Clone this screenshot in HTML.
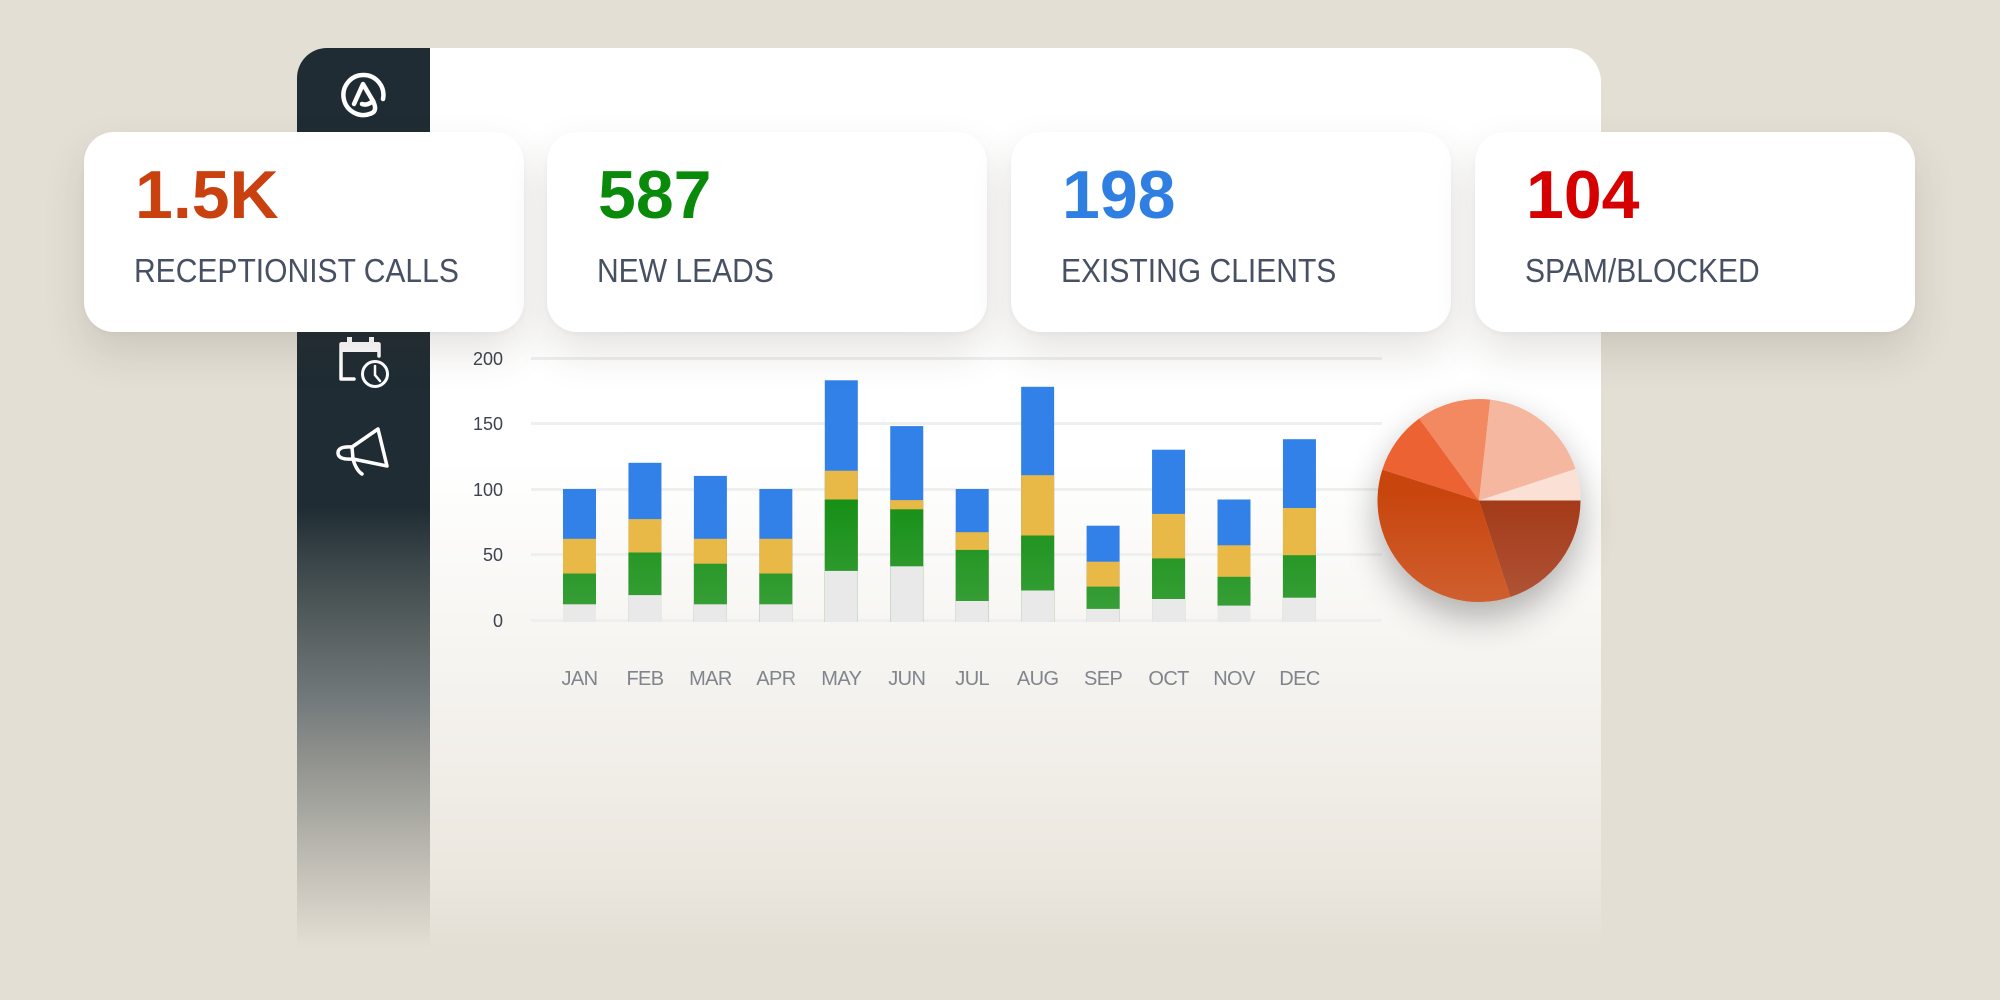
<!DOCTYPE html>
<html>
<head>
<meta charset="utf-8">
<style>
  html, body { margin:0; padding:0; }
  body { width:2000px; height:1000px; background:#e3dfd5; position:relative; overflow:hidden; font-family:"Liberation Sans", sans-serif; }
  .panel { position:absolute; left:430px; top:48px; width:1171px; height:900px; border-top-right-radius:34px;
    background:linear-gradient(to bottom, #ffffff 0%, #ffffff 46%, #f8f7f4 62%, #f2efea 78%, #ebe6dd 93%, #e3dfd5 100%); }
  .side { position:absolute; left:297px; top:48px; width:133px; height:900px; border-top-left-radius:30px;
    background:linear-gradient(to bottom, #1f2c33 0%, #1f2c33 51%, #3a4549 57%, #5c6564 66%, #70787a 72%, #8c8e8a 78%, #a8a8a2 85%, #c6c2b9 92%, #dcd8ce 98%, #e3dfd5 100%); }
  .card { position:absolute; top:132px; width:440px; height:200px; background:#fff; border-radius:30px;
    box-shadow:0 20px 42px rgba(70,60,40,0.14), 0 2px 6px rgba(0,0,0,0.03); z-index:3; }
  .num { position:absolute; left:51px; top:29px; font-size:68px; line-height:68px; font-weight:bold; white-space:nowrap; }
  .lbl { position:absolute; left:50px; top:122px; font-size:33px; line-height:33px; color:#475163; white-space:nowrap; transform:scaleX(0.91); transform-origin:0 0; }
  svg.main { position:absolute; left:0; top:0; z-index:2; }
  svg.logo { position:absolute; left:0; top:0; z-index:4; }
</style>
</head>
<body>
<div class="side"></div>
<div class="panel"></div>

<svg class="main" width="2000" height="1000" viewBox="0 0 2000 1000" xmlns="http://www.w3.org/2000/svg">
  <defs>
    <linearGradient id="gr" gradientUnits="userSpaceOnUse" x1="0" y1="440" x2="0" y2="620">
      <stop offset="0" stop-color="#058805"/>
      <stop offset="1" stop-color="#3aa03a"/>
    </linearGradient>
    <linearGradient id="pieov" gradientUnits="userSpaceOnUse" x1="0" y1="400" x2="0" y2="602">
      <stop offset="0" stop-color="#ffffff" stop-opacity="0"/>
      <stop offset="0.45" stop-color="#ffffff" stop-opacity="0"/>
      <stop offset="1" stop-color="#ffffff" stop-opacity="0.14"/>
    </linearGradient>
    <filter id="psh" x="-60%" y="-60%" width="220%" height="220%">
      <feGaussianBlur in="SourceAlpha" stdDeviation="18"/>
      <feOffset dy="16" result="b"/>
      <feComponentTransfer><feFuncA type="linear" slope="0.3"/></feComponentTransfer>
      <feMerge><feMergeNode/><feMergeNode in="SourceGraphic"/></feMerge>
    </filter>
  </defs>

  <g fill="#efefef">
    <rect x="531" y="357" width="851" height="3"/>
    <rect x="531" y="422" width="851" height="3"/>
    <rect x="531" y="488" width="851" height="3"/>
    <rect x="531" y="553" width="851" height="3"/>
    <rect x="531" y="619" width="851" height="3"/>
  </g>

  <g font-family="Liberation Sans, sans-serif" font-size="18" fill="#3d4450" text-anchor="end">
    <text x="503" y="365">200</text>
    <text x="503" y="430">150</text>
    <text x="503" y="496">100</text>
    <text x="503" y="561">50</text>
    <text x="503" y="627">0</text>
  </g>

  <g>
    <rect x="563" y="489" width="33" height="133" fill="#3181e8"/>
    <rect x="563" y="538.8" width="33" height="83.2" fill="#e9b947"/>
    <rect x="563" y="573.5" width="33" height="48.5" fill="url(#gr)"/>
    <rect x="563" y="604.3" width="33" height="17.7" fill="#e9e9e9"/>

    <rect x="628.45" y="462.8" width="33" height="159.2" fill="#3181e8"/>
    <rect x="628.45" y="519.1" width="33" height="102.9" fill="#e9b947"/>
    <rect x="628.45" y="552.5" width="33" height="69.5" fill="url(#gr)"/>
    <rect x="628.45" y="595.1" width="33" height="26.9" fill="#e9e9e9"/>

    <rect x="693.9" y="475.9" width="33" height="146.1" fill="#3181e8"/>
    <rect x="693.9" y="538.8" width="33" height="83.2" fill="#e9b947"/>
    <rect x="693.9" y="563.7" width="33" height="58.3" fill="url(#gr)"/>
    <rect x="693.9" y="604.3" width="33" height="17.7" fill="#e9e9e9"/>

    <rect x="759.35" y="489" width="33" height="133" fill="#3181e8"/>
    <rect x="759.35" y="538.8" width="33" height="83.2" fill="#e9b947"/>
    <rect x="759.35" y="573.5" width="33" height="48.5" fill="url(#gr)"/>
    <rect x="759.35" y="604.3" width="33" height="17.7" fill="#e9e9e9"/>

    <rect x="824.8" y="380.3" width="33" height="241.7" fill="#3181e8"/>
    <rect x="824.8" y="470.7" width="33" height="151.3" fill="#e9b947"/>
    <rect x="824.8" y="499.5" width="33" height="122.5" fill="url(#gr)"/>
    <rect x="824.8" y="570.9" width="33" height="51.1" fill="#e9e9e9"/>

    <rect x="890.25" y="426.1" width="33" height="195.9" fill="#3181e8"/>
    <rect x="890.25" y="500.1" width="33" height="121.9" fill="#e9b947"/>
    <rect x="890.25" y="509.3" width="33" height="112.7" fill="url(#gr)"/>
    <rect x="890.25" y="566.3" width="33" height="55.7" fill="#e9e9e9"/>

    <rect x="955.7" y="489" width="33" height="133" fill="#3181e8"/>
    <rect x="955.7" y="532.2" width="33" height="89.8" fill="#e9b947"/>
    <rect x="955.7" y="549.9" width="33" height="72.1" fill="url(#gr)"/>
    <rect x="955.7" y="601" width="33" height="21" fill="#e9e9e9"/>

    <rect x="1021.15" y="386.8" width="33" height="235.2" fill="#3181e8"/>
    <rect x="1021.15" y="475.2" width="33" height="146.8" fill="#e9b947"/>
    <rect x="1021.15" y="535.5" width="33" height="86.5" fill="url(#gr)"/>
    <rect x="1021.15" y="590.5" width="33" height="31.5" fill="#e9e9e9"/>

    <rect x="1086.6" y="525.7" width="33" height="96.3" fill="#3181e8"/>
    <rect x="1086.6" y="561.7" width="33" height="60.3" fill="#e9b947"/>
    <rect x="1086.6" y="586.6" width="33" height="35.4" fill="url(#gr)"/>
    <rect x="1086.6" y="608.9" width="33" height="13.1" fill="#e9e9e9"/>

    <rect x="1152.05" y="449.7" width="33" height="172.3" fill="#3181e8"/>
    <rect x="1152.05" y="513.9" width="33" height="108.1" fill="#e9b947"/>
    <rect x="1152.05" y="558.4" width="33" height="63.6" fill="url(#gr)"/>
    <rect x="1152.05" y="599" width="33" height="23" fill="#e9e9e9"/>

    <rect x="1217.5" y="499.5" width="33" height="122.5" fill="#3181e8"/>
    <rect x="1217.5" y="545.3" width="33" height="76.7" fill="#e9b947"/>
    <rect x="1217.5" y="576.8" width="33" height="45.2" fill="url(#gr)"/>
    <rect x="1217.5" y="605.6" width="33" height="16.4" fill="#e9e9e9"/>

    <rect x="1282.95" y="439.2" width="33" height="182.8" fill="#3181e8"/>
    <rect x="1282.95" y="508" width="33" height="114" fill="#e9b947"/>
    <rect x="1282.95" y="555.2" width="33" height="66.8" fill="url(#gr)"/>
    <rect x="1282.95" y="597.7" width="33" height="24.3" fill="#e9e9e9"/>
  </g>

  <g font-family="Liberation Sans, sans-serif" font-size="20" fill="#80858d" text-anchor="middle" letter-spacing="-0.6">
    <text x="579.5" y="685">JAN</text>
    <text x="645" y="685">FEB</text>
    <text x="710.4" y="685">MAR</text>
    <text x="775.9" y="685">APR</text>
    <text x="841.3" y="685">MAY</text>
    <text x="906.8" y="685">JUN</text>
    <text x="972.2" y="685">JUL</text>
    <text x="1037.7" y="685">AUG</text>
    <text x="1103.1" y="685">SEP</text>
    <text x="1168.6" y="685">OCT</text>
    <text x="1234" y="685">NOV</text>
    <text x="1299.5" y="685">DEC</text>
  </g>

  <g filter="url(#psh)">
    <path d="M1479 500.5 L1580.5 500.5 A101.5 101.5 0 0 1 1510.4 597 Z" fill="#a33812"/>
    <path d="M1479 500.5 L1510.4 597 A101.5 101.5 0 0 1 1382.3 469.6 Z" fill="#c8440f"/>
    <path d="M1479 500.5 L1382.3 469.6 A101.5 101.5 0 0 1 1419.2 418.5 Z" fill="#ec6231"/>
    <path d="M1479 500.5 L1419.2 418.5 A101.5 101.5 0 0 1 1490.3 399.6 Z" fill="#f28960"/>
    <path d="M1479 500.5 L1490.3 399.6 A101.5 101.5 0 0 1 1575.5 469 Z" fill="#f6b7a0"/>
    <path d="M1479 500.5 L1575.5 469 A101.5 101.5 0 0 1 1580.5 500.5 Z" fill="#fbe0d6"/>
  </g>
  <circle cx="1479" cy="500.5" r="101.5" fill="url(#pieov)"/>

  <g fill="none" stroke="#ffffff" stroke-width="3.5" stroke-linecap="round" stroke-linejoin="round">
    <path d="M354 379 L341 379 L341 344 L379 344 L379 356"/>
  </g>
  <rect x="341" y="342" width="38" height="10" fill="#ffffff"/>
  <rect x="347" y="337" width="5" height="7" fill="#ffffff"/>
  <rect x="369" y="337" width="5" height="7" fill="#ffffff"/>
  <circle cx="375" cy="374" r="15.5" fill="#1f2c33"/>
  <circle cx="375" cy="374" r="12.5" fill="none" stroke="#ffffff" stroke-width="3"/>
  <path d="M375 366 L375 375 L380 381" fill="none" stroke="#ffffff" stroke-width="2.5" stroke-linecap="round"/>

  <g fill="none" stroke="#ffffff" stroke-width="3.5" stroke-linecap="round" stroke-linejoin="round">
    <path d="M352 447 L378 429 L387 466 L353 459"/>
    <path d="M352 447 Q338 446 338 453 Q338 460 353 459"/>
    <path d="M352 447 L353 459"/>
    <path d="M353 459 Q356 470 362 474"/>
  </g>
</svg>

<svg class="logo" width="2000" height="1000" viewBox="0 0 2000 1000" xmlns="http://www.w3.org/2000/svg">
  <g fill="none" stroke="#ffffff" stroke-width="4.5" stroke-linecap="round" stroke-linejoin="round">
    <path d="M371 113.5 A20 20 0 1 1 383 99"/>
    <path d="M354 104 L363 84 L373 101"/>
    <path d="M373 101 Q367 106 362 104"/>
    <path d="M373 101 Q378 111 371 113.5"/>
  </g>
</svg>

<div class="card" style="left:84px;">
  <div class="num" style="color:#c8410f;">1.5K</div>
  <div class="lbl">RECEPTIONIST CALLS</div>
</div>
<div class="card" style="left:547px;">
  <div class="num" style="color:#0a8a0a;">587</div>
  <div class="lbl">NEW LEADS</div>
</div>
<div class="card" style="left:1011px;">
  <div class="num" style="color:#2f7fe3;">198</div>
  <div class="lbl">EXISTING CLIENTS</div>
</div>
<div class="card" style="left:1475px;">
  <div class="num" style="color:#d60000;">104</div>
  <div class="lbl">SPAM/BLOCKED</div>
</div>
</body>
</html>
